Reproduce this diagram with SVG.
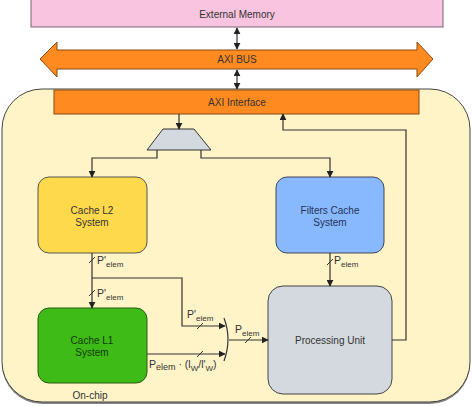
<svg xmlns="http://www.w3.org/2000/svg" width="474" height="406" viewBox="0 0 474 406">
<defs>
<marker id="ah" viewBox="0 0 10 10" refX="9" refY="5" markerWidth="7" markerHeight="7" orient="auto-start-reverse" markerUnits="userSpaceOnUse">
<path d="M0,0 L10,5 L0,10 Z" fill="#222"/>
</marker>
<style>
text{font-family:"Liberation Sans",Arial,sans-serif;fill:#333;}
.lbl{font-size:10px;text-anchor:middle;}
.pl{font-size:10.5px;}
.sub{font-size:8px;}
.w{stroke:#333;stroke-width:1.2;fill:none;}
.sl{stroke:#333;stroke-width:1;}
</style>
</defs>
<rect width="474" height="406" fill="#ffffff"/>
<g id="onchip">
<rect x="2" y="91" width="468" height="313" rx="40" fill="#888"/>
<rect x="2" y="89" width="468" height="313" rx="40" fill="#FFF4C8" stroke="#444" stroke-width="1"/>
<text x="90" y="399" class="lbl">On-chip</text>
</g>
<g id="extmem">
<rect x="31" y="-1" width="412" height="28" fill="#F9C4E0" stroke="#7a6470" stroke-width="1"/>
<text x="237" y="18" class="lbl">External Memory</text>
</g>
<g id="axibus">
<path d="M40,59 L57,42 L57,50 L417,50 L417,42 L433,59 L417,77 L417,69 L57,69 L57,77 Z" fill="#FF8A20" stroke="#8a4a12" stroke-width="1"/>
<text x="237" y="63" class="lbl">AXI BUS</text>
</g>
<g id="axiif">
<rect x="54" y="90" width="365" height="24" fill="#FF8A20" stroke="#8a4a12" stroke-width="1"/>
<text x="237" y="106" class="lbl">AXI Interface</text>
</g>
<g id="mux">
<path d="M163,129 L194,129 L211,150 L147,150 Z" fill="#D3D9DE" stroke="#333" stroke-width="1"/>
</g>
<g id="l2">
<rect x="38" y="177" width="109" height="76" rx="11" fill="#FFD94C" stroke="#555" stroke-width="1"/>
<text x="92" y="214" class="lbl" font-size="11">Cache L2</text>
<text x="92" y="226" class="lbl" font-size="11">System</text>
</g>
<g id="fc">
<rect x="276" y="177" width="108" height="76" rx="11" fill="#88B9FF" stroke="#445" stroke-width="1"/>
<text x="330" y="214" class="lbl" font-size="11" style="fill:#223355">Filters Cache</text>
<text x="330" y="226" class="lbl" font-size="11" style="fill:#223355">System</text>
</g>
<g id="l1">
<rect x="38" y="308" width="109" height="75" rx="11" fill="#3EBB16" stroke="#2a5a10" stroke-width="1"/>
<text x="92" y="344" class="lbl" font-size="11" style="fill:#143a00">Cache L1</text>
<text x="92" y="356" class="lbl" font-size="11" style="fill:#143a00">System</text>
</g>
<g id="pu">
<rect x="268" y="286" width="124" height="108" rx="15" fill="#D3D9DE" stroke="#444" stroke-width="1"/>
<text x="330" y="344" class="lbl" font-size="11">Processing Unit</text>
</g>
<g id="connectors">
<line x1="237" y1="28" x2="237" y2="49" class="w" marker-start="url(#ah)" marker-end="url(#ah)"/>
<line x1="237" y1="70" x2="237" y2="89" class="w" marker-start="url(#ah)" marker-end="url(#ah)"/>
<line x1="179" y1="114" x2="179" y2="129" class="w" marker-end="url(#ah)"/>
<polyline points="157,150 157,158 92,158 92,177" class="w" marker-end="url(#ah)"/>
<polyline points="201,150 201,158 330,158 330,177" class="w" marker-end="url(#ah)"/>
<polyline points="392,340 406,340 406,130 283,130 283,114" class="w" marker-end="url(#ah)"/>
<line x1="92" y1="253" x2="92" y2="308" class="w" marker-end="url(#ah)"/>
<polyline points="92,278 182,278 182,326 225,326" class="w" marker-end="url(#ah)"/>
<line x1="147" y1="354" x2="225" y2="354" class="w" marker-end="url(#ah)"/>
<path d="M224,318 Q232,339 224,361" class="w"/>
<line x1="229" y1="340" x2="268" y2="340" class="w" marker-end="url(#ah)"/>
<line x1="330" y1="253" x2="330" y2="286" class="w" marker-end="url(#ah)"/>
<line x1="89" y1="263" x2="95" y2="257" class="sl"/>
<line x1="89" y1="296" x2="95" y2="290" class="sl"/>
<line x1="327" y1="265" x2="333" y2="259" class="sl"/>
<line x1="197" y1="329" x2="203" y2="323" class="sl"/>
<line x1="197" y1="357" x2="203" y2="351" class="sl"/>
<line x1="245" y1="343" x2="251" y2="337" class="sl"/>
</g>
<g id="labels">
<text x="97" y="264" class="pl">P'<tspan class="sub" dy="3">elem</tspan></text>
<text x="97" y="297" class="pl">P'<tspan class="sub" dy="3">elem</tspan></text>
<text x="334" y="264" class="pl" font-size="11.5">P<tspan class="sub" dy="3">elem</tspan></text>
<text x="187" y="318" class="pl">P'<tspan class="sub" dy="3">elem</tspan></text>
<text x="235" y="333" class="pl">P<tspan class="sub" dy="3">elem</tspan></text>
<text x="149" y="368" class="pl" font-size="11.5">P<tspan font-size="9" dy="2">elem</tspan><tspan dy="-2"> · (l</tspan><tspan class="sub" dy="3">W</tspan><tspan dy="-3">/l'</tspan><tspan class="sub" dy="3">W</tspan><tspan dy="-3">)</tspan></text>
</g>
</svg>
